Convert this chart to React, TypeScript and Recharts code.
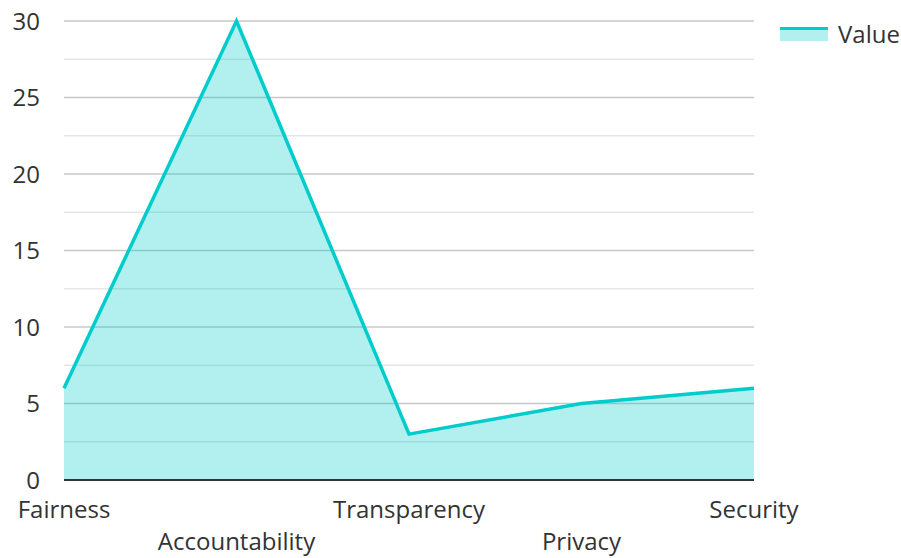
import { AreaChart, Area, XAxis, YAxis, CartesianGrid, Legend } from "recharts";

const categories = ["Fairness", "Accountability", "Transparency", "Privacy", "Security"];
const values = [6, 30, 3, 5, 6];
const yTicks = [0, 5, 10, 15, 20, 25, 30];
const minorTicks = [2.5, 7.5, 12.5, 17.5, 22.5, 27.5];

const data = categories.map((name, i) => ({ name, value: values[i] }));

const FONT = "'Open Sans', 'Noto Sans', sans-serif";
const TEAL = "#00cccc";

const StaggerTick = (props: any) => {
  const { x, y, payload, index } = props;
  return (
    <text
      x={x}
      y={y}
      dy={index % 2 === 0 ? 30 : 62}
      textAnchor="middle"
      fill="#333"
      fontSize={24}
      fontFamily={FONT}
    >
      {payload.value}
    </text>
  );
};

const LegendBox = () => (
  <div style={{ display: "flex", alignItems: "center", fontFamily: FONT, fontSize: 24, color: "#333" }}>
    <svg width={48} height={14} style={{ marginRight: 10 }}>
      <rect x={0} y={0} width={48} height={14} fill={TEAL} fillOpacity={0.3} />
      <line x1={0} x2={48} y1={1.5} y2={1.5} stroke={TEAL} strokeWidth={3} />
    </svg>
    <span>Value</span>
  </div>
);

export default function App() {
  return (
    <div style={{ position: "absolute", left: 0, top: 0 }}>
      <AreaChart width={901} height={558} data={data} margin={{ top: 21, right: 17, bottom: 0, left: 0 }}>
        <CartesianGrid vertical={false} horizontalValues={minorTicks} stroke="#e6e6e6" strokeWidth={1.5} />
        <CartesianGrid vertical={false} stroke="#c8c8c8" strokeWidth={1.5} />
        <XAxis
          dataKey="name"
          height={78}
          tick={<StaggerTick />}
          tickLine={false}
          interval={0}
          stroke="#333"
          strokeWidth={2}
        />
        <YAxis
          domain={[0, 30]}
          ticks={yTicks}
          width={64}
          axisLine={false}
          tickLine={false}
          tickSize={0}
          tickMargin={24}
          tick={{ fill: "#333", fontSize: 24, fontFamily: FONT }}
        />
        <Legend
          content={<LegendBox />}
          layout="vertical"
          align="right"
          verticalAlign="top"
          wrapperStyle={{ position: "absolute", left: 780, top: 17, width: 130 }}
        />
        <Area
          type="linear"
          dataKey="value"
          stroke={TEAL}
          strokeWidth={3.5}
          fill={TEAL}
          fillOpacity={0.3}
          isAnimationActive={false}
        />
      </AreaChart>
    </div>
  );
}
